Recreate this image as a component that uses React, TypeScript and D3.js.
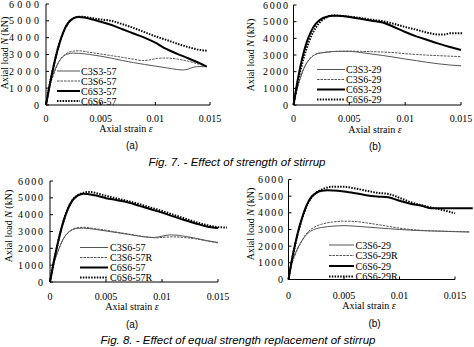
import React from 'react';
import * as d3 from 'd3';

type Pt = [number, number];

// ---------- shared ticks ----------
const strainTicks = [0, 0.005, 0.01, 0.015];
const strainTickLabels = ['0', '0.005', '0.01', '0.015'];
const loadTicks = [0, 1000, 2000, 3000, 4000, 5000, 6000];
const loadTickLabels = ['0', '1000', '2000', '3000', '4000', '5000', '6000'];

// ---------- Fig. 7 (a) ----------
const fig7aNames = ['C3S3-57', 'C3S6-57', 'C6S3-57', 'C6S6-57'];
const fig7a_C3S3_57: Pt[] = [[0,0],[0.0003,1100],[0.0007,1900],[0.0011,2500],[0.0015,2850],[0.002,3030],[0.0025,3080],[0.003,3070],[0.004,3000],[0.005,2900],[0.006,2780],[0.007,2640],[0.008,2520],[0.009,2410],[0.01,2310],[0.011,2210],[0.012,2110],[0.0125,2080],[0.013,2130],[0.0135,2250],[0.014,2280],[0.0147,2280]];
const fig7a_C3S6_57: Pt[] = [[0,0],[0.0003,1000],[0.0007,1800],[0.0011,2450],[0.0015,2850],[0.002,3100],[0.0025,3200],[0.003,3220],[0.004,3130],[0.005,3030],[0.006,2930],[0.007,2830],[0.008,2720],[0.0088,2640],[0.0095,2680],[0.0102,2770],[0.011,2790],[0.012,2730],[0.013,2600],[0.014,2420],[0.0147,2290]];
const fig7a_C6S3_57: Pt[] = [[0,0],[0.0004,1400],[0.0008,2600],[0.0012,3600],[0.0016,4350],[0.002,4850],[0.0025,5150],[0.003,5230],[0.0035,5200],[0.004,5120],[0.005,4950],[0.006,4750],[0.007,4500],[0.008,4250],[0.009,4000],[0.01,3700],[0.011,3330],[0.012,3040],[0.013,2780],[0.014,2500],[0.0147,2280]];
const fig7a_C6S6_57: Pt[] = [[0,0],[0.0004,1400],[0.0008,2600],[0.0012,3600],[0.0016,4350],[0.002,4850],[0.0025,5150],[0.003,5250],[0.0035,5230],[0.004,5180],[0.005,5080],[0.006,5000],[0.007,4800],[0.008,4580],[0.009,4330],[0.01,4080],[0.011,3870],[0.012,3640],[0.013,3440],[0.014,3280],[0.0148,3220]];

// ---------- Fig. 7 (b) ----------
const fig7bNames = ['C3S3-29', 'C3S6-29', 'C6S3-29', 'C6S6-29'];
const fig7b_C3S3_29: Pt[] = [[0,0],[0.0003,900],[0.0006,1600],[0.001,2300],[0.0015,2800],[0.002,3050],[0.0025,3130],[0.003,3170],[0.004,3220],[0.005,3220],[0.006,3150],[0.007,3060],[0.008,2970],[0.009,2870],[0.01,2760],[0.011,2660],[0.012,2560],[0.013,2470],[0.014,2400],[0.015,2350]];
const fig7b_C3S6_29: Pt[] = [[0,0],[0.0003,900],[0.0006,1600],[0.001,2300],[0.0015,2800],[0.002,3050],[0.0025,3130],[0.003,3180],[0.004,3220],[0.005,3230],[0.006,3220],[0.007,3200],[0.008,3180],[0.009,3140],[0.01,3080],[0.011,3030],[0.012,2990],[0.013,2960],[0.014,2930],[0.015,2900]];
const fig7b_C6S3_29: Pt[] = [[0,0],[0.0004,1600],[0.0008,2850],[0.0012,3800],[0.0016,4450],[0.002,4880],[0.0025,5170],[0.003,5300],[0.0035,5350],[0.004,5360],[0.005,5280],[0.006,5170],[0.007,5060],[0.008,4950],[0.009,4680],[0.01,4380],[0.011,4120],[0.012,3900],[0.013,3680],[0.014,3480],[0.015,3300]];
const fig7b_C6S6_29: Pt[] = [[0,0],[0.0004,1400],[0.0008,2550],[0.0012,3450],[0.0016,4150],[0.002,4650],[0.0025,5050],[0.003,5280],[0.0035,5370],[0.004,5360],[0.005,5300],[0.006,5220],[0.007,5120],[0.008,5020],[0.009,4870],[0.01,4680],[0.011,4520],[0.012,4340],[0.013,4230],[0.0135,4230],[0.014,4300],[0.0145,4300],[0.0152,4300]];

// ---------- Fig. 8 (a) ----------
const fig8aNames = ['C3S6-57', 'C3S6-57R', 'C6S6-57', 'C6S6-57R'];
const fig8a_C3S6_57: Pt[] = [[0,0],[0.0003,1000],[0.0007,1800],[0.0011,2450],[0.0015,2850],[0.002,3100],[0.0025,3190],[0.003,3200],[0.004,3130],[0.005,3030],[0.006,2930],[0.007,2830],[0.008,2720],[0.0092,2640],[0.01,2720],[0.0107,2800],[0.0122,2700],[0.013,2600],[0.014,2460],[0.015,2350]];
const fig8a_C3S6_57R: Pt[] = [[0,0],[0.0003,1000],[0.0007,1800],[0.0011,2450],[0.0015,2870],[0.002,3130],[0.0025,3230],[0.003,3250],[0.004,3170],[0.005,3080],[0.006,2960],[0.007,2850],[0.008,2740],[0.009,2650],[0.0095,2620],[0.01,2650],[0.011,2680],[0.012,2640],[0.013,2560],[0.014,2440],[0.015,2320]];
const fig8a_C6S6_57: Pt[] = [[0,0],[0.0004,1400],[0.0008,2600],[0.0012,3600],[0.0016,4350],[0.002,4850],[0.0025,5150],[0.003,5250],[0.004,5150],[0.005,4980],[0.006,4860],[0.007,4720],[0.008,4520],[0.009,4320],[0.01,4120],[0.011,3900],[0.012,3680],[0.013,3480],[0.014,3300],[0.015,3200]];
const fig8a_C6S6_57R: Pt[] = [[0,0],[0.0004,1400],[0.0008,2600],[0.0012,3600],[0.0016,4350],[0.002,4850],[0.0025,5170],[0.003,5300],[0.0035,5350],[0.004,5300],[0.005,5120],[0.006,4960],[0.007,4800],[0.008,4620],[0.009,4420],[0.01,4220],[0.011,4000],[0.012,3780],[0.013,3560],[0.014,3380],[0.015,3260],[0.0158,3240]];

// ---------- Fig. 8 (b) ----------
const fig8bNames = ['C3S6-29', 'C3S6-29R', 'C6S6-29', 'C6S6-29R'];
const fig8b_C3S6_29: Pt[] = [[0,0],[0.0002,800],[0.0005,1400],[0.001,2100],[0.0015,2600],[0.002,2900],[0.0025,3050],[0.003,3120],[0.004,3200],[0.005,3230],[0.006,3200],[0.007,3150],[0.008,3100],[0.009,3050],[0.01,3000],[0.011,2960],[0.012,2930],[0.013,2910],[0.014,2890],[0.015,2870],[0.0163,2850]];
const fig8b_C3S6_29R: Pt[] = [[0,0],[0.0002,700],[0.0005,1300],[0.001,2050],[0.0015,2650],[0.002,3000],[0.0025,3200],[0.003,3320],[0.004,3450],[0.005,3500],[0.006,3480],[0.007,3400],[0.008,3300],[0.009,3190],[0.01,3080],[0.011,3000],[0.012,2950],[0.013,2920],[0.014,2900],[0.015,2880],[0.0163,2860]];
const fig8b_C6S6_29: Pt[] = [[0,0],[0.0004,1500],[0.0008,2700],[0.0012,3650],[0.0016,4400],[0.002,4900],[0.0025,5200],[0.003,5320],[0.0035,5350],[0.004,5340],[0.005,5280],[0.006,5180],[0.007,5060],[0.008,4980],[0.009,4930],[0.01,4720],[0.011,4540],[0.012,4420],[0.0128,4280],[0.014,4280],[0.015,4280],[0.0166,4280]];
const fig8b_C6S6_29R: Pt[] = [[0,0],[0.0004,1450],[0.0008,2650],[0.0012,3600],[0.0016,4350],[0.002,4870],[0.0025,5200],[0.003,5400],[0.0035,5520],[0.004,5570],[0.005,5560],[0.006,5460],[0.007,5330],[0.008,5200],[0.009,5130],[0.01,4900],[0.011,4640],[0.012,4450],[0.013,4300],[0.014,4150],[0.015,3970]];

// ---------- styles ----------
type Style = { stroke: string; width: number; dash?: string };
const seriesStyles: Style[] = [
  { stroke: '#555', width: 1 },
  { stroke: '#555', width: 1, dash: '2.5,1' },
  { stroke: '#000', width: 2 },
  { stroke: '#000', width: 2, dash: '1.5,1.3' },
];

type Layout = {
  x0: number; x1: number; yTop: number; yBot: number;
  yLabelRight: number; yLabelLen: number; yTitleX: number; yTitleY: number;
  xLabelY: number; xTitleX: number; xTitleY: number;
  tag: string; tagX: number; tagY: number;
  lx1: number; lx2: number; tx: number; ly0: number; ldy: number;
};

const serif = 'Liberation Serif, Times New Roman, serif';
const sans = 'Liberation Sans, Arial, sans-serif';

function Panel({ names, data, L }: { names: string[]; data: Pt[][]; L: Layout }) {
  const x = d3.scaleLinear().domain([0, 0.015]).range([L.x0, L.x1]);
  const y = d3.scaleLinear().domain([0, 6000]).range([L.yBot, L.yTop]);
  const line = d3.line<Pt>().x(d => x(d[0])).y(d => y(d[1])).curve(d3.curveMonotoneX);
  return (
    <g>
      {data.map((s, i) => (
        <path key={i} d={line(s) || ''} fill="none" stroke={seriesStyles[i].stroke}
          strokeWidth={seriesStyles[i].width} strokeDasharray={seriesStyles[i].dash} />
      ))}
      <line x1={L.x0} x2={L.x0} y1={L.yBot} y2={y(6000)} stroke="#000" strokeWidth={1} />
      <line x1={L.x0} x2={x(0.015)} y1={L.yBot} y2={L.yBot} stroke="#000" strokeWidth={1} />
      {loadTicks.map((t, i) => (
        <g key={'y' + i}>
          <line x1={L.x0} x2={L.x0 + 3} y1={y(t)} y2={y(t)} stroke="#000" />
          <text x={L.yLabelRight} y={y(t)} dy="0.35em" textAnchor="end" fontFamily={serif} fontSize={10}
            textLength={loadTickLabels[i].length > 1 ? L.yLabelLen : undefined}>{loadTickLabels[i]}</text>
        </g>
      ))}
      {strainTicks.map((t, i) => (
        <g key={'x' + i}>
          <line x1={x(t)} x2={x(t)} y1={L.yBot} y2={L.yBot - 3} stroke="#000" />
          <text x={x(t)} y={L.xLabelY} textAnchor="middle" fontFamily={serif} fontSize={10}>{strainTickLabels[i]}</text>
        </g>
      ))}
      <text transform={`translate(${L.yTitleX},${L.yTitleY}) rotate(-90)`} textAnchor="middle" fontFamily={serif} fontSize={10}>
        Axial  load <tspan fontStyle="italic">N</tspan> (kN)
      </text>
      <text x={L.xTitleX} y={L.xTitleY} textAnchor="middle" fontFamily={serif} fontSize={10}>
        Axial strain <tspan fontStyle="italic">ε</tspan>
      </text>
      <text x={L.tagX} y={L.tagY} textAnchor="middle" fontFamily={sans} fontSize={10}>{L.tag}</text>
      {names.map((n, i) => {
        const ly = L.ly0 + i * L.ldy;
        return (
          <g key={'l' + i}>
            <line x1={L.lx1} x2={L.lx2} y1={ly} y2={ly} stroke={seriesStyles[i].stroke}
              strokeWidth={seriesStyles[i].width} strokeDasharray={seriesStyles[i].dash} />
            <text x={L.tx} y={ly} dy="0.35em" fontFamily={serif} fontSize={10}>{n}</text>
          </g>
        );
      })}
    </g>
  );
}

const L7a: Layout = { x0: 46, x1: 210, yTop: 4, yBot: 105, yLabelRight: 39, yLabelLen: 30, yTitleX: 8, yTitleY: 53,
  xLabelY: 122, xTitleX: 126, xTitleY: 132, tag: '(a)', tagX: 132, tagY: 149, lx1: 57, lx2: 80, tx: 81, ly0: 71, ldy: 10 };
const L7b: Layout = { x0: 293.5, x1: 461, yTop: 5, yBot: 105, yLabelRight: 288, yLabelLen: 25, yTitleX: 254, yTitleY: 55,
  xLabelY: 122, xTitleX: 375, xTitleY: 132.5, tag: '(b)', tagX: 375, tagY: 150, lx1: 317, lx2: 345, tx: 346, ly0: 69.5, ldy: 10 };
const L8a: Layout = { x0: 50, x1: 218, yTop: 181, yBot: 282, yLabelRight: 43, yLabelLen: 25, yTitleX: 12, yTitleY: 226,
  xLabelY: 299.5, xTitleX: 132, xTitleY: 310, tag: '(a)', tagX: 132, tagY: 328, lx1: 80, lx2: 108, tx: 110, ly0: 247.5, ldy: 10 };
const L8b: Layout = { x0: 288.5, x1: 455, yTop: 179.5, yBot: 279.5, yLabelRight: 283, yLabelLen: 25, yTitleX: 254, yTitleY: 224,
  xLabelY: 299, xTitleX: 369, xTitleY: 309, tag: '(b)', tagX: 374.5, tagY: 327, lx1: 329, lx2: 354, tx: 355.5, ly0: 245, ldy: 10.5 };

export default function App() {
  return (
    <svg width={474} height={347} style={{ position: 'absolute', left: 0, top: 0, background: '#fff' }}>
      <rect width={474} height={347} fill="#fff" />
      <Panel names={fig7aNames} data={[fig7a_C3S3_57, fig7a_C3S6_57, fig7a_C6S3_57, fig7a_C6S6_57]} L={L7a} />
      <Panel names={fig7bNames} data={[fig7b_C3S3_29, fig7b_C3S6_29, fig7b_C6S3_29, fig7b_C6S6_29]} L={L7b} />
      <Panel names={fig8aNames} data={[fig8a_C3S6_57, fig8a_C3S6_57R, fig8a_C6S6_57, fig8a_C6S6_57R]} L={L8a} />
      <Panel names={fig8bNames} data={[fig8b_C3S6_29, fig8b_C3S6_29R, fig8b_C6S6_29, fig8b_C6S6_29R]} L={L8b} />
      <text x={237} y={166} textAnchor="middle" fontFamily={sans} fontStyle="italic" fontSize={11.5}>Fig. 7. - Effect of strength of stirrup</text>
      <text x={238} y={344} textAnchor="middle" fontFamily={sans} fontStyle="italic" fontSize={11.5}>Fig. 8. - Effect of equal strength replacement of stirrup</text>
    </svg>
  );
}
